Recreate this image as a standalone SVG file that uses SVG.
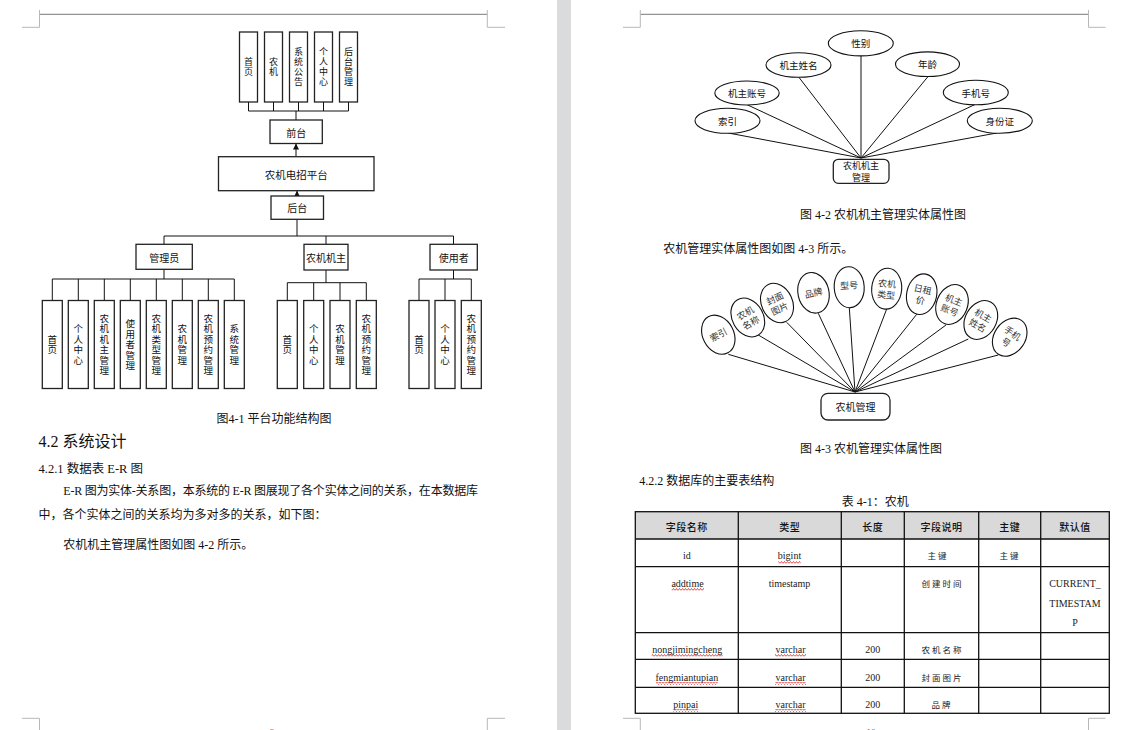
<svg xmlns="http://www.w3.org/2000/svg" width="1139" height="730" viewBox="0 0 1139 730">
<defs>
<style>
.bx{fill:#fff;stroke:#222;stroke-width:1.3}
.ln{stroke:#111;stroke-width:1;fill:none}
.el{fill:#fff;stroke:#111;stroke-width:1.1}
.t{font-family:"Noto Sans CJK SC",sans-serif;font-size:10px;fill:#111;text-anchor:middle;dominant-baseline:central}
.vt{font-family:"Noto Sans CJK SC",sans-serif;font-size:9px;letter-spacing:1px;fill:#111;text-anchor:middle;writing-mode:vertical-rl}
.vb{font-family:"Noto Sans CJK SC",sans-serif;font-size:9.5px;letter-spacing:1px;fill:#111;text-anchor:middle;writing-mode:vertical-rl}
.e2{font-family:"Noto Sans CJK SC",sans-serif;font-size:9px;fill:#333;text-anchor:middle;dominant-baseline:central}
.body{font-family:"Liberation Serif","Noto Sans CJK SC",serif;font-size:12px;fill:#111}
.cell{font-family:"Liberation Serif","Noto Sans CJK SC",serif;font-size:10px;fill:#222;text-anchor:middle}
.cj{font-family:"Noto Sans CJK SC",sans-serif;font-size:8.5px;letter-spacing:2px;fill:#222;text-anchor:middle}
.hd{font-family:"Noto Sans CJK SC",sans-serif;font-size:10px;font-weight:500;letter-spacing:0.5px;fill:#111;text-anchor:middle}
.crn{stroke:#b8b8b8;stroke-width:1;fill:none}
.hl{stroke:#7a7a7a;stroke-width:1;fill:none}
.tb{stroke:#111;stroke-width:1.3;fill:none}
</style>
<marker id="arr" markerWidth="6" markerHeight="6" refX="6" refY="3" orient="auto" markerUnits="userSpaceOnUse"><path d="M0,0 L6,3 L0,6 z" fill="#111"/></marker>
<pattern id="wave" width="3" height="3" patternUnits="userSpaceOnUse"><path d="M0,2.5 L1.5,0.5 L3,2.5" fill="none" stroke="#e02020" stroke-width="0.8"/></pattern>
</defs>
<rect x="0" y="0" width="1139" height="730" fill="#fff"/>
<rect x="557" y="0" width="14" height="730" fill="#dadbdd"/>

<!-- page decorations -->
<g id="page-marks">
<path class="hl" d="M40,14.3 H487.3 M640.3,14.3 H1088.5"/>
<path class="crn" d="M39.5,10 V27.3 H22 M487.3,10 V27.3 H505 M640.3,10 V27.3 H623 M1088.5,10 V27.3 H1105.5"/>
<path class="crn" d="M22,718.3 H39.5 V730 M505,718.3 H487.3 V730 M623,718.3 H640.3 V730 M1105.5,718.3 H1088.5 V730"/>
<text x="272" y="735" font-family="Liberation Serif" font-size="9" fill="#555" text-anchor="middle">9</text>
<text x="871" y="735" font-family="Liberation Serif" font-size="9" fill="#555" text-anchor="middle">10</text>
</g>

<!-- ===== Figure 4-1 connectors ===== -->
<g id="connectors-4-1" class="ln">
<path d="M248.5,102 V111 M273.5,102 V111 M298.5,102 V111 M323.5,102 V111 M348.5,102 V111 M248.5,111 H348.5 M296,111 V120"/>
<line x1="296" y1="156.7" x2="296" y2="143.5" marker-end="url(#arr)"/>
<line x1="297" y1="196" x2="297" y2="190.8" marker-end="url(#arr)"/>
<path d="M297,219.3 V236 M164,236 H453.5 M164,236 V244.3 M326,236 V244.3 M453.5,236 V244.3"/>
<path d="M164,269.3 V279 M52.3,279 H234.3 M52.3,279 V300.5 M78.3,279 V300.5 M104.3,279 V300.5 M130.3,279 V300.5 M156.3,279 V300.5 M182.3,279 V300.5 M208.3,279 V300.5 M234.3,279 V300.5"/>
<path d="M326,270 V282.7 M287.3,282.7 H366.3 M287.3,282.7 V300.5 M313.7,282.7 V300.5 M340,282.7 V300.5 M366.3,282.7 V300.5"/>
<path d="M453.5,270 V279 M419,279 H471.3 M419,279 V300.5 M445,279 V300.5 M471.3,279 V300.5"/>
</g>

<!-- top boxes -->
<g id="n-shouye-top"><rect class="bx" x="239.5" y="32" width="18" height="70"/><text class="vt" x="248.5" y="67.5">首页</text></g>
<g id="n-nongji-top"><rect class="bx" x="264.5" y="32" width="18" height="70"/><text class="vt" x="273.5" y="67.5">农机</text></g>
<g id="n-gonggao"><rect class="bx" x="289.5" y="32" width="18" height="70"/><text class="vt" x="298.5" y="67.5">系统公告</text></g>
<g id="n-geren-top"><rect class="bx" x="314.5" y="32" width="18" height="70"/><text class="vt" x="323.5" y="67.5">个人中心</text></g>
<g id="n-houtaiguanli"><rect class="bx" x="339.5" y="32" width="18" height="70"/><text class="vt" x="348.5" y="67.5">后台管理</text></g>

<g id="n-qiantai"><rect class="bx" x="270" y="120" width="52.3" height="23.5"/><text class="t" x="296.2" y="132">前台</text></g>
<g id="n-pingtai"><rect class="bx" x="218.5" y="156.7" width="155.5" height="34"/><text class="t" x="296.2" y="174" style="font-size:10.5px">农机电招平台</text></g>
<g id="n-houtai"><rect class="bx" x="271" y="196" width="52.5" height="23.3"/><text class="t" x="297.2" y="207.8">后台</text></g>

<g id="n-admin"><rect class="bx" x="136" y="244.3" width="56.3" height="25"/><text class="t" x="164.2" y="257">管理员</text></g>
<g id="n-owner"><rect class="bx" x="304" y="244.3" width="44" height="25.7"/><text class="t" x="326" y="257">农机机主</text></g>
<g id="n-user"><rect class="bx" x="430" y="244.3" width="47.3" height="25.7"/><text class="t" x="453.7" y="257">使用者</text></g>

<!-- admin children -->
<g id="n-a1"><rect class="bx" x="42.3" y="300.5" width="20" height="88"/><text class="vb" x="52.3" y="345">首页</text></g>
<g id="n-a2"><rect class="bx" x="68.3" y="300.5" width="20" height="88"/><text class="vb" x="78.3" y="345">个人中心</text></g>
<g id="n-a3"><rect class="bx" x="94.3" y="300.5" width="20" height="88"/><text class="vb" x="104.3" y="345">农机机主管理</text></g>
<g id="n-a4"><rect class="bx" x="120.3" y="300.5" width="20" height="88"/><text class="vb" x="130.3" y="345">使用者管理</text></g>
<g id="n-a5"><rect class="bx" x="146.3" y="300.5" width="20" height="88"/><text class="vb" x="156.3" y="345">农机类型管理</text></g>
<g id="n-a6"><rect class="bx" x="172.3" y="300.5" width="20" height="88"/><text class="vb" x="182.3" y="345">农机管理</text></g>
<g id="n-a7"><rect class="bx" x="198.3" y="300.5" width="20" height="88"/><text class="vb" x="208.3" y="345">农机预约管理</text></g>
<g id="n-a8"><rect class="bx" x="224.3" y="300.5" width="20" height="88"/><text class="vb" x="234.3" y="345">系统管理</text></g>

<!-- owner children -->
<g id="n-o1"><rect class="bx" x="277.3" y="300.5" width="20" height="88"/><text class="vb" x="287.3" y="345">首页</text></g>
<g id="n-o2"><rect class="bx" x="303.7" y="300.5" width="20" height="88"/><text class="vb" x="313.7" y="345">个人中心</text></g>
<g id="n-o3"><rect class="bx" x="330" y="300.5" width="20" height="88"/><text class="vb" x="340" y="345">农机管理</text></g>
<g id="n-o4"><rect class="bx" x="356.3" y="300.5" width="20" height="88"/><text class="vb" x="366.3" y="345">农机预约管理</text></g>

<!-- user children -->
<g id="n-u1"><rect class="bx" x="409" y="300.5" width="20" height="88"/><text class="vb" x="419" y="345">首页</text></g>
<g id="n-u2"><rect class="bx" x="435" y="300.5" width="20" height="88"/><text class="vb" x="445" y="345">个人中心</text></g>
<g id="n-u3"><rect class="bx" x="461.3" y="300.5" width="20" height="88"/><text class="vb" x="471.3" y="345">农机预约管理</text></g>

<!-- left page text -->
<g id="left-text">
<text class="body" x="274" y="422.5" text-anchor="middle">图4-1 平台功能结构图</text>
<text class="body" x="38.5" y="446.5" style="font-size:16px">4.2 系统设计</text>
<text class="body" x="38.5" y="472.5" style="font-size:12.5px">4.2.1 数据表 E-R 图</text>
<text class="body" x="63.3" y="494.5" textLength="414.7" lengthAdjust="spacing">E-R 图为实体-关系图，本系统的 E-R 图展现了各个实体之间的关系，在本数据库</text>
<text class="body" x="38.5" y="518.5">中，各个实体之间的关系均为多对多的关系，如下图：</text>
<text class="body" x="63.3" y="548.5">农机机主管理属性图如图 4-2 所示。</text>
</g>

<!-- ===== Figure 4-2 ===== -->
<g id="connectors-4-2" class="ln">
<line x1="861" y1="158" x2="861" y2="55.5"/>
<line x1="861" y1="158" x2="798.3" y2="76.5"/>
<line x1="861" y1="158" x2="928.3" y2="76.2"/>
<line x1="861" y1="158" x2="746.7" y2="104.5"/>
<line x1="861" y1="158" x2="975" y2="104.5"/>
<line x1="861" y1="158" x2="728.3" y2="133"/>
<line x1="861" y1="158" x2="996.7" y2="133"/>
</g>
<g id="e1-xingbie"><ellipse class="el" cx="860.8" cy="43.3" rx="32.5" ry="12.6"/><text class="t" x="860.8" y="43.3" style="font-size:9.5px">性别</text></g>
<g id="e1-jizhuxingming"><ellipse class="el" cx="798.5" cy="65" rx="32.5" ry="12.3"/><text class="t" x="798.5" y="65" style="font-size:9.5px">机主姓名</text></g>
<g id="e1-nianling"><ellipse class="el" cx="927.5" cy="64.2" rx="32" ry="12.3"/><text class="t" x="927.5" y="64.2" style="font-size:9.5px">年龄</text></g>
<g id="e1-jizhuzhanghao"><ellipse class="el" cx="747" cy="93" rx="32.2" ry="12"/><text class="t" x="747" y="93" style="font-size:9.5px">机主账号</text></g>
<g id="e1-shoujihao"><ellipse class="el" cx="975.8" cy="92.5" rx="32.5" ry="12.3"/><text class="t" x="975.8" y="92.5" style="font-size:9.5px">手机号</text></g>
<g id="e1-suoyin"><ellipse class="el" cx="727.5" cy="120.8" rx="32.5" ry="12.5"/><text class="t" x="727.5" y="120.8" style="font-size:9.5px">索引</text></g>
<g id="e1-shenfenzheng"><ellipse class="el" cx="999.8" cy="120.8" rx="32.5" ry="12.5"/><text class="t" x="999.8" y="120.8" style="font-size:9.5px">身份证</text></g>
<g id="e1-entity"><rect class="bx" x="833.3" y="159.3" width="55.7" height="24" rx="5"/><text class="t" style="font-size:9px"><tspan x="861" y="164.8">农机机主</tspan><tspan x="861" y="177.3">管理</tspan></text></g>

<g id="right-text-1">
<text class="body" x="800" y="219">图 4-2 农机机主管理实体属性图</text>
<text class="body" x="663.3" y="252.5">农机管理实体属性图如图 4-3 所示。</text>
</g>

<!-- ===== Figure 4-3 ===== -->
<g id="connectors-4-3" class="ln">
<line x1="855" y1="392" x2="728.3" y2="354.3"/>
<line x1="855" y1="392" x2="758.3" y2="335"/>
<line x1="855" y1="392" x2="786.7" y2="322.3"/>
<line x1="855" y1="392" x2="818.3" y2="313.3"/>
<line x1="855" y1="392" x2="849.3" y2="307.7"/>
<line x1="855" y1="392" x2="886.7" y2="309"/>
<line x1="855" y1="392" x2="916.7" y2="314.3"/>
<line x1="855" y1="392" x2="946" y2="325"/>
<line x1="855" y1="392" x2="968.3" y2="339"/>
<line x1="855" y1="392" x2="998.3" y2="355"/>
</g>
<g id="e2-suoyin" transform="translate(718.3,334.7) rotate(-28)"><ellipse class="el" rx="15.5" ry="20.5"/><text class="e2" x="0" y="0">索引</text></g>
<g id="e2-nongjimingcheng" transform="translate(747.8,317.5) rotate(-30)"><ellipse class="el" rx="15.5" ry="20.5"/><text class="e2"><tspan x="0" y="-5.6">农机</tspan><tspan x="0" y="5.6">名称</tspan></text></g>
<g id="e2-fengmiantupian" transform="translate(777,303) rotate(-25)"><ellipse class="el" rx="15.5" ry="20.5"/><text class="e2"><tspan x="0" y="-5.6">封面</tspan><tspan x="0" y="5.6">图片</tspan></text></g>
<g id="e2-pinpai" transform="translate(813.5,292.8) rotate(-13)"><ellipse class="el" rx="15.5" ry="20.5"/><text class="e2" x="0" y="0">品牌</text></g>
<g id="e2-xinghao" transform="translate(849.2,287.2) rotate(-3)"><ellipse class="el" rx="15" ry="20.5"/><text class="e2" x="0" y="-2">型号</text></g>
<g id="e2-nongjileixing" transform="translate(886.7,288.7) rotate(5)"><ellipse class="el" rx="15" ry="20.5"/><text class="e2"><tspan x="0" y="-5.6">农机</tspan><tspan x="0" y="5.6">类型</tspan></text></g>
<g id="e2-rizujia" transform="translate(921.7,294.2) rotate(12)"><ellipse class="el" rx="15" ry="20.5"/><text class="e2"><tspan x="0" y="-5.6">日租</tspan><tspan x="0" y="5.6">价</tspan></text></g>
<g id="e2-jizhuzhanghao" transform="translate(952,304.5) rotate(22)"><ellipse class="el" rx="15.5" ry="20.5"/><text class="e2"><tspan x="0" y="-5.6">机主</tspan><tspan x="0" y="5.6">账号</tspan></text></g>
<g id="e2-jizhuxingming" transform="translate(980.8,320) rotate(30)"><ellipse class="el" rx="15.5" ry="20.5"/><text class="e2"><tspan x="0" y="-5.6">机主</tspan><tspan x="0" y="5.6">姓名</tspan></text></g>
<g id="e2-shoujihao" transform="translate(1009.7,337.2) rotate(35)"><ellipse class="el" rx="15.5" ry="20.5"/><text class="e2"><tspan x="0" y="-5.6">手机</tspan><tspan x="0" y="5.6">号</tspan></text></g>
<g id="e2-entity"><rect class="bx" x="821" y="393.3" width="69" height="26.7" rx="7"/><text class="t" x="855.5" y="406.7">农机管理</text></g>

<g id="right-text-2">
<text class="body" x="800" y="452.5">图 4-3 农机管理实体属性图</text>
<text class="body" x="639.3" y="484.5">4.2.2 数据库的主要表结构</text>
<text class="body" x="841.7" y="505.5">表 4-1：农机</text>
</g>

<!-- ===== Table ===== -->
<g id="table">
<rect x="635.3" y="511.7" width="474" height="27.3" fill="#d9d9d9"/>
<rect class="tb" x="635.3" y="511.7" width="474" height="201.6"/>
<path class="tb" d="M738.3,511.7 V713.3 M841.3,511.7 V713.3 M904.3,511.7 V713.3 M978.7,511.7 V713.3 M1040.7,511.7 V713.3"/>
<path class="tb" d="M635.3,539 H1109.3 M635.3,566.7 H1109.3 M635.3,632.7 H1109.3 M635.3,659.3 H1109.3 M635.3,687.3 H1109.3"/>
<text class="hd" x="686.8" y="531">字段名称</text>
<text class="hd" x="789.8" y="531">类型</text>
<text class="hd" x="872.8" y="531">长度</text>
<text class="hd" x="941.5" y="531">字段说明</text>
<text class="hd" x="1009.7" y="531">主键</text>
<text class="hd" x="1075" y="531">默认值</text>

<text class="cell" x="686.8" y="559">id</text>
<text class="cell" x="789.5" y="559">bigint</text>
<text class="cj" x="938" y="559">主键</text>
<text class="cj" x="1010" y="559">主键</text>

<text class="cell" x="687.5" y="586.5">addtime</text>
<text class="cell" x="789.5" y="586.5">timestamp</text>
<text class="cj" x="942.5" y="586.5">创建时间</text>
<text class="cell" x="1075" y="586.5">CURRENT_</text>
<text class="cell" x="1075" y="606.5">TIMESTAM</text>
<text class="cell" x="1075" y="626">P</text>

<text class="cell" x="687.2" y="652.5">nongjimingcheng</text>
<text class="cell" x="790.5" y="652.5">varchar</text>
<text class="cell" x="872.8" y="652.5">200</text>
<text class="cj" x="942.5" y="652.5">农机名称</text>

<text class="cell" x="686.8" y="680.5">fengmiantupian</text>
<text class="cell" x="790.5" y="680.5">varchar</text>
<text class="cell" x="872.8" y="680.5">200</text>
<text class="cj" x="942.5" y="680.5">封面图片</text>

<text class="cell" x="685.8" y="707.5">pinpai</text>
<text class="cell" x="790.5" y="707.5">varchar</text>
<text class="cell" x="872.8" y="707.5">200</text>
<text class="cj" x="942" y="707.5">品牌</text>

<rect x="778.3" y="561" width="22.4" height="3" fill="url(#wave)"/>
<rect x="671.7" y="588" width="32.3" height="3" fill="url(#wave)"/>
<rect x="651.7" y="654" width="71" height="3" fill="url(#wave)"/>
<rect x="775" y="654" width="31" height="3" fill="url(#wave)"/>
<rect x="656" y="682" width="61.7" height="3" fill="url(#wave)"/>
<rect x="775" y="682" width="31" height="3" fill="url(#wave)"/>
<rect x="673.3" y="709" width="25" height="3" fill="url(#wave)"/>
<rect x="775" y="709" width="31" height="3" fill="url(#wave)"/>
</g>
</svg>
